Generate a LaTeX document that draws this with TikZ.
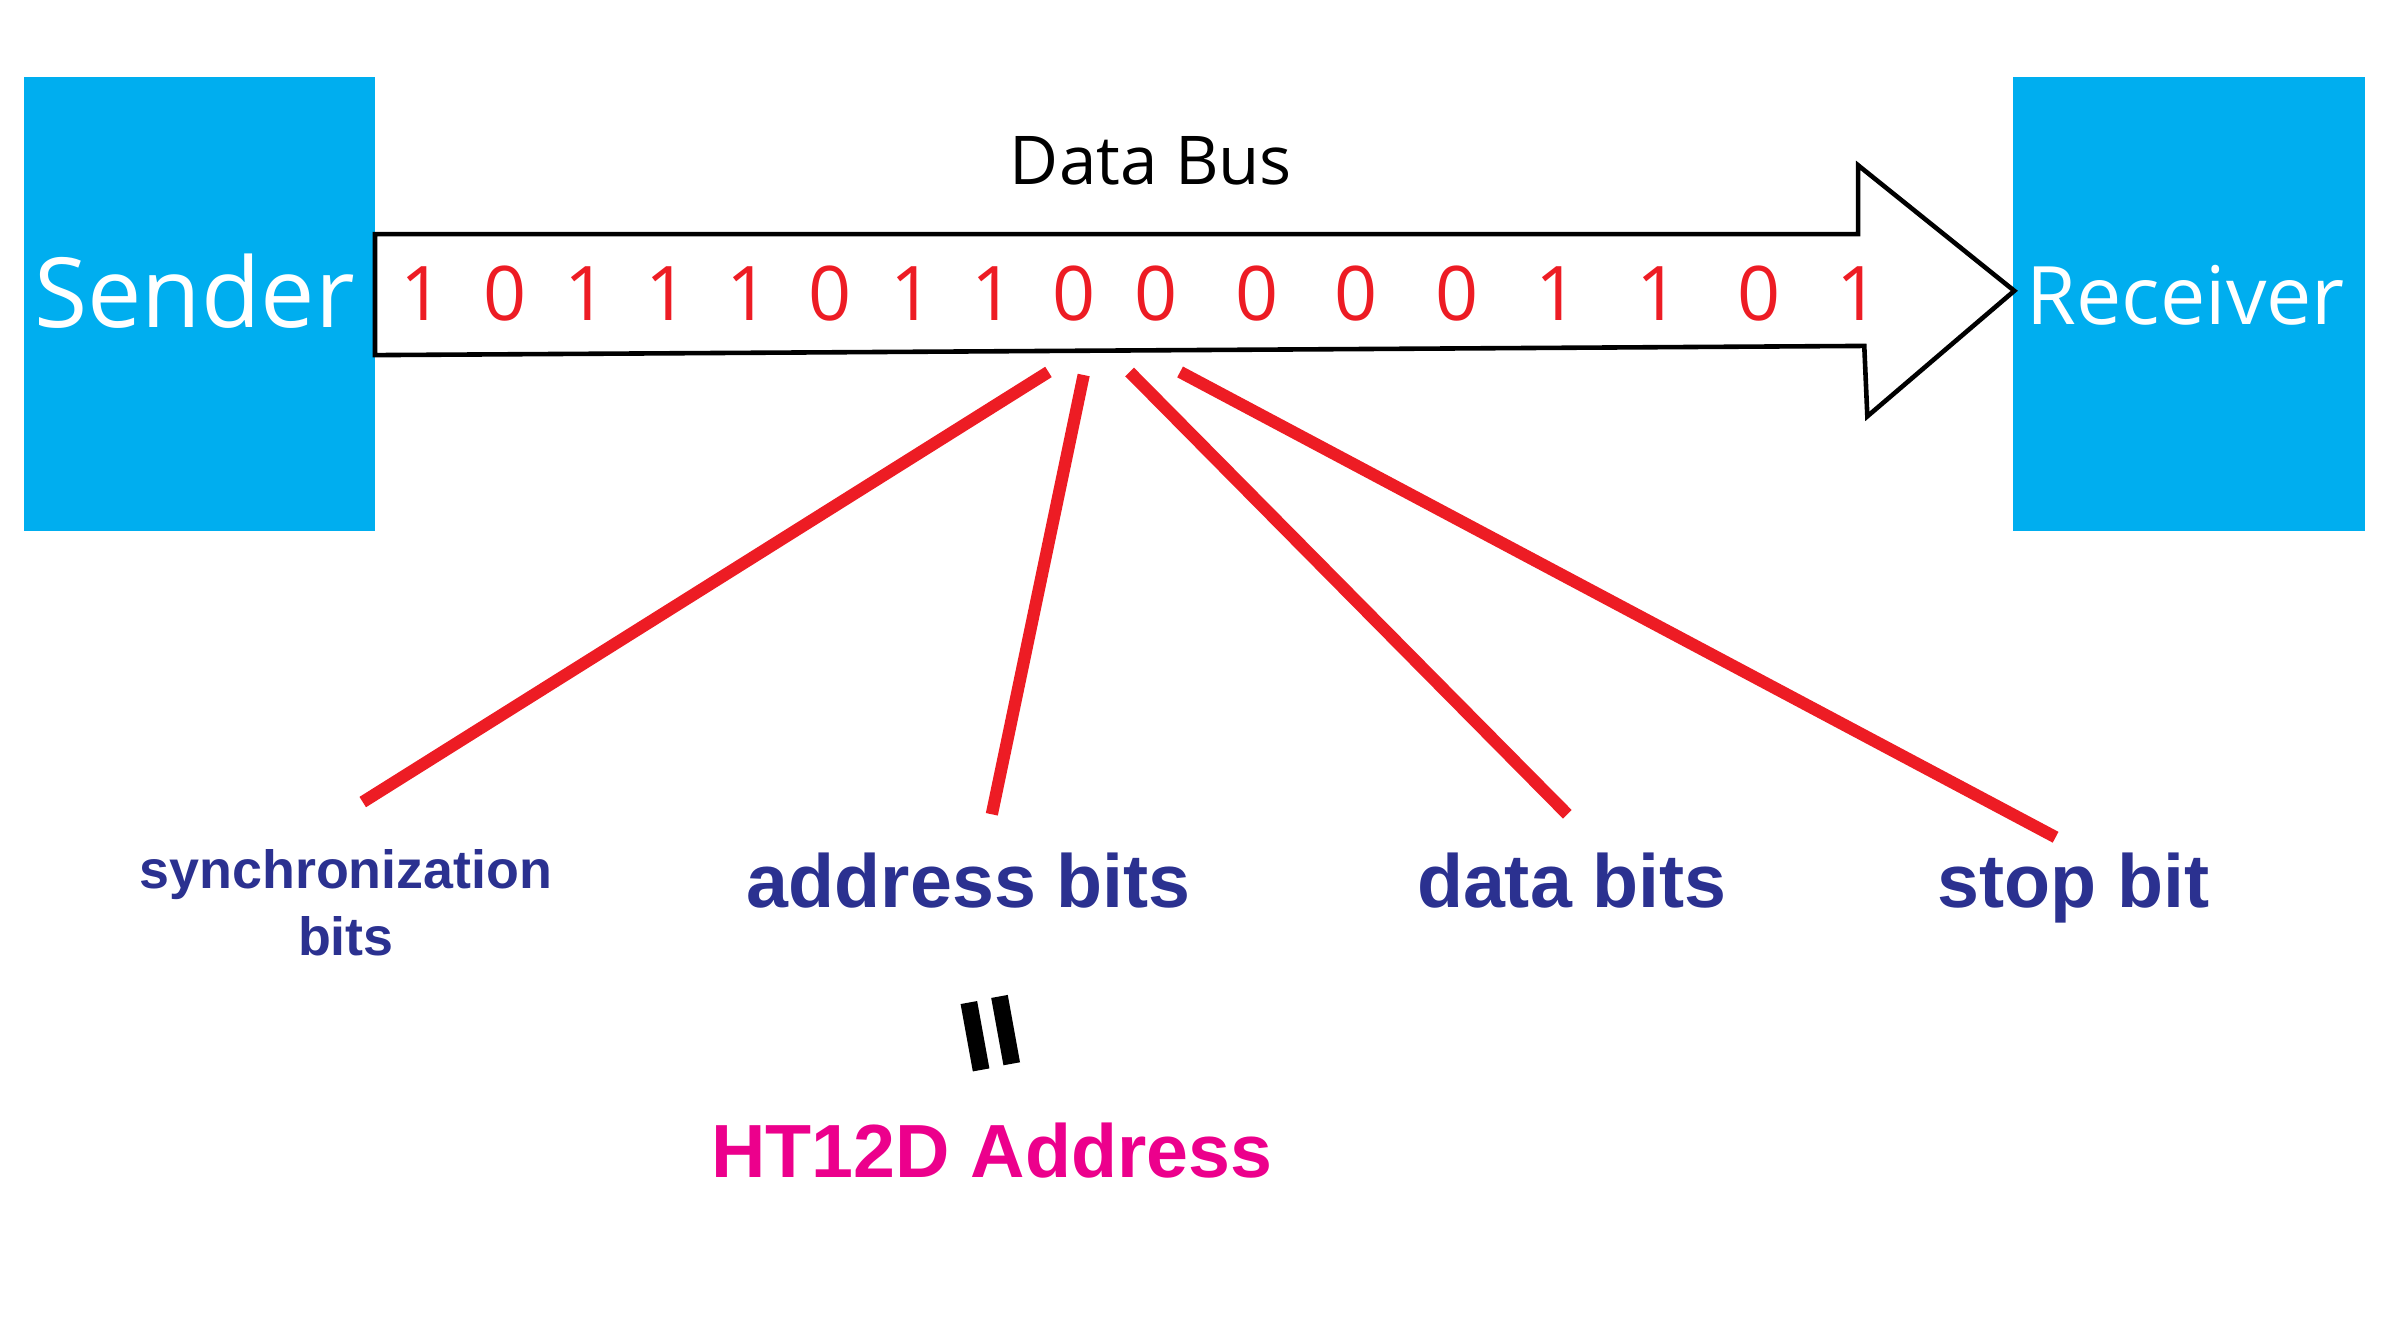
\documentclass[tikz,border=0pt]{standalone}
\usepackage{fontspec}
\setmainfont{Open Sans}
\newfontfamily\lab{Liberation Sans}
\definecolor{cy}{HTML}{00AEEF}
\definecolor{nb}{HTML}{2B3190}
\definecolor{mg}{HTML}{EC008C}
\definecolor{rd}{HTML}{ED1C24}
\begin{document}
\begin{tikzpicture}[x=0.01cm,y=-0.01cm,
  box/.style={fill=cy,draw=none},
  bit/.style={text=rd,font=\fontsize{14}{14}\selectfont},
  lbl/.style={text=nb,font=\lab\bfseries\fontsize{14}{15}\selectfont,align=center},
  rl/.style={draw=rd,line width=8*0.01cm}]
\useasboundingbox (0,0) rectangle (1568,869);
\fill[cy] (16,50) rectangle (245,347);
\fill[cy] (1315,50) rectangle (1545,347);
\node[text=white,font=\fontsize{18}{18}\selectfont] (snd) at (127,190) {Sender};
\node[text=white,font=\fontsize{15}{15}\selectfont] (rcv) at (1428,193) {Receiver};
\draw[line width=3*0.01cm,line join=miter] (245,153) -- (1214,153) -- (1214,108) -- (1316,190) -- (1220,272) -- (1218,226) -- (245,232) -- cycle;
\node[font=\fontsize{12.5}{13}\selectfont] (bus) at (752,105) {Data Bus};
\foreach \x/\b [count=\i] in {276/1,330/0,383/1,436/1,489/1,542/0,596/1,649/1,702/0,755/0,821/0,886/0,952/0,1017/1,1083/1,1149/0,1214/1}
  \node[bit] (b\i) at (\x,192) {\b};
\coordinate (s1) at (685,243); \coordinate (e1) at (237,524);
\coordinate (s2) at (708,245); \coordinate (e2) at (648,532);
\coordinate (s3) at (738,243); \coordinate (e3) at (1024,532);
\coordinate (s4) at (771,243); \coordinate (e4) at (1343,547);
\draw[rl] (s1) -- (e1); \draw[rl] (s2) -- (e2); \draw[rl] (s3) -- (e3); \draw[rl] (s4) -- (e4);
\node[lbl,font=\lab\bfseries\fontsize{10}{12.5}\selectfont] (l1) at (226,590) {synchronization\\bits};
\node[lbl] (l2) at (633,575) {address bits};
\node[lbl] (l3) at (1027,575) {data bits};
\node[lbl] (l4) at (1355,580) {stop bit};
\draw[line width=11*0.01cm] (633,655) -- (641,699);
\draw[line width=11*0.01cm] (653,651) -- (661,695);
\node[text=mg,font=\lab\bfseries\fontsize{14}{15}\selectfont] (ht) at (648,752) {HT12D Address};
\end{tikzpicture}
\end{document}
